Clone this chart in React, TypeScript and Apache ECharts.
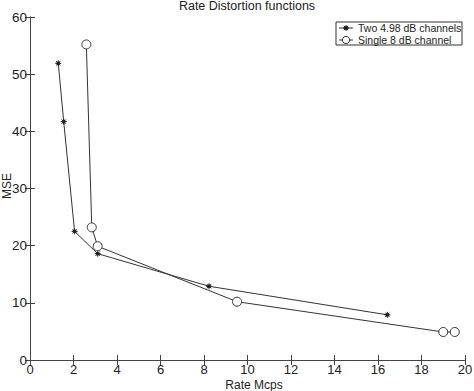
import React, { useEffect, useRef } from "react";
import * as echarts from "echarts";

const twoChanRate = [1.3, 1.55, 2.05, 3.11, 8.23, 16.43];
const twoChanMse = [51.9, 41.7, 22.5, 18.6, 12.9, 7.9];
const singleRate = [2.59, 2.84, 3.11, 9.52, 19.0, 19.53];
const singleMse = [55.2, 23.2, 19.9, 10.2, 4.9, 4.9];
const seriesNames = ["Two 4.98 dB channels", "Single 8 dB channel"];
const titleText = "Rate Distortion functions";
const xName = "Rate Mcps";
const yName = "MSE";

const STAR =
  "path://M5,0 L5,10 M0,5 L10,5 M1.5,1.5 L8.5,8.5 M8.5,1.5 L1.5,8.5 M3,3 L7,3 L7,7 L3,7 Z";

export default function App() {
  const ref = useRef<HTMLDivElement>(null);
  useEffect(() => {
    if (!ref.current) return;
    const chart = echarts.init(ref.current, undefined, { renderer: "svg" });
    const font = "Liberation Sans";
    const axisColor = "#444";
    const textColor = "#222";
    const lineColor = "#333";
    const zip = (a: number[], b: number[]) => a.map((v, i) => [v, b[i]]);
    const lx = 339, lw = 14, cx = lx + lw / 2, r1 = 28, r2 = 40;
    const starLines = [
      [cx - 3, r1, cx + 3, r1],
      [cx, r1 - 3, cx, r1 + 3],
      [cx - 2.2, r1 - 2.2, cx + 2.2, r1 + 2.2],
      [cx + 2.2, r1 - 2.2, cx - 2.2, r1 + 2.2],
    ];
    chart.setOption({
      animation: false,
      backgroundColor: "#fff",
      grid: { left: 30, right: 9, top: 17, bottom: 31, containLabel: false, outerBoundsMode: "none" },
      graphic: [
        {
          type: "text",
          x: 247,
          y: 6,
          style: { text: titleText, fontFamily: font, fontSize: 12.5, fill: textColor, align: "center", verticalAlign: "middle" },
        },
        {
          type: "text",
          x: 254,
          y: 384.5,
          style: { text: xName, fontFamily: font, fontSize: 12, fill: textColor, align: "center", verticalAlign: "middle" },
        },
        {
          type: "text",
          x: 7,
          y: 186,
          rotation: Math.PI / 2,
          style: { text: yName, fontFamily: font, fontSize: 12, fill: textColor, align: "center", verticalAlign: "middle" },
        },
        {
          type: "group",
          z: 100,
          children: [
            { type: "rect", shape: { x: 336, y: 22, width: 126, height: 23 }, style: { fill: "#fff", stroke: lineColor, lineWidth: 1 } },
            { type: "line", shape: { x1: lx, y1: r1, x2: lx + lw, y2: r1 }, style: { stroke: lineColor, lineWidth: 1 } },
            ...starLines.map((s) => ({ type: "line", shape: { x1: s[0], y1: s[1], x2: s[2], y2: s[3] }, style: { stroke: "#111", lineWidth: 1 } })),
            { type: "rect", shape: { x: cx - 1.5, y: r1 - 1.5, width: 3, height: 3 }, style: { fill: "#111" } },
            { type: "line", shape: { x1: lx, y1: r2, x2: lx + lw, y2: r2 }, style: { stroke: lineColor, lineWidth: 1 } },
            { type: "circle", shape: { cx, cy: r2, r: 3.6 }, style: { fill: "#fff", stroke: lineColor, lineWidth: 1 } },
            { type: "text", x: 358, y: r1, style: { text: seriesNames[0], fontFamily: font, fontSize: 10.5, fill: textColor, verticalAlign: "middle" } },
            { type: "text", x: 358, y: r2, style: { text: seriesNames[1], fontFamily: font, fontSize: 10.5, fill: textColor, verticalAlign: "middle" } },
          ],
        },
      ],
      xAxis: [
        {
          type: "value",
          min: 0,
          max: 20,
          interval: 2,
          axisLine: { lineStyle: { color: axisColor } },
          axisTick: { inside: true, length: 5, lineStyle: { color: axisColor } },
          axisLabel: { fontFamily: font, fontSize: 13, color: textColor, margin: 3 },
          splitLine: { show: false },
        },
        {
          type: "value",
          position: "top",
          min: 0,
          max: 20,
          interval: 2,
          axisLine: { show: true, lineStyle: { color: axisColor } },
          axisTick: { inside: true, length: 5, lineStyle: { color: axisColor } },
          axisLabel: { show: false },
          splitLine: { show: false },
        },
      ],
      yAxis: [
        {
          type: "value",
          min: 0,
          max: 60,
          interval: 10,
          axisLine: { show: true, lineStyle: { color: axisColor } },
          axisTick: { show: true, inside: true, length: 5, lineStyle: { color: axisColor } },
          axisLabel: { fontFamily: font, fontSize: 13.5, color: textColor, margin: 3 },
          splitLine: { show: false },
        },
        {
          type: "value",
          position: "right",
          min: 0,
          max: 60,
          interval: 10,
          axisLine: { show: true, lineStyle: { color: axisColor } },
          axisTick: { show: true, inside: true, length: 5, lineStyle: { color: axisColor } },
          axisLabel: { show: false },
          splitLine: { show: false },
        },
      ],
      series: [
        {
          name: seriesNames[0],
          type: "line",
          data: zip(twoChanRate, twoChanMse),
          symbol: STAR,
          symbolSize: 6,
          lineStyle: { color: lineColor, width: 1 },
          itemStyle: { color: "#222", borderColor: "#222", borderWidth: 1 },
        },
        {
          name: seriesNames[1],
          type: "line",
          data: zip(singleRate, singleMse),
          symbol: "circle",
          symbolSize: 9,
          lineStyle: { color: lineColor, width: 1 },
          itemStyle: { color: "#fff", borderColor: lineColor, borderWidth: 1 },
        },
      ],
    });
    return () => chart.dispose();
  }, []);
  return <div ref={ref} style={{ position: "fixed", left: 0, top: 0, width: 474, height: 391 }} />;
}
